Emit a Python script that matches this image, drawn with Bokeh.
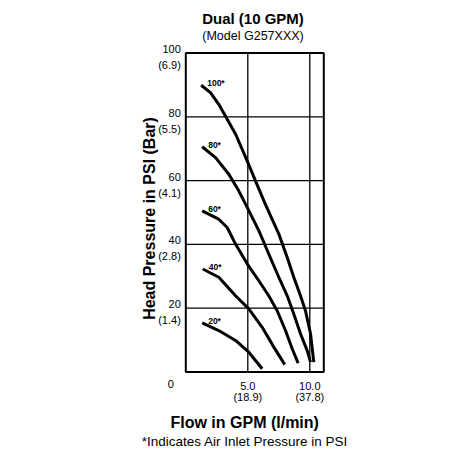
import math
from bokeh.plotting import figure
from bokeh.models import Label, Range1d
from bokeh.embed import file_html
from bokeh.resources import INLINE

# ---- data ----
air_pressures = ["100*", "80*", "60*", "40*", "20*"]

flow_100 = [1.24, 1.99, 2.66, 3.34, 4.01, 4.95, 5.62, 6.29, 6.83, 7.50, 8.18, 8.71, 9.25, 9.65, 10.06, 10.32]
head_100 = [89.9, 87.6, 83.9, 79.2, 74.6, 66.2, 59.9, 53.7, 49.0, 43.3, 35.9, 29.7, 23.9, 19.2, 12.0, 3.1]

flow_80 = [1.32, 2.40, 3.47, 4.27, 4.95, 5.89, 6.69, 7.50, 8.18, 8.71, 9.25, 9.79, 10.06]
head_80 = [70.6, 67.2, 62.0, 56.8, 51.6, 44.3, 37.0, 29.7, 23.9, 18.2, 12.0, 6.7, 3.1]

flow_60 = [1.32, 2.66, 3.34, 4.01, 4.95, 5.89, 6.69, 7.37, 8.04, 8.58, 9.06]
head_60 = [50.5, 47.9, 45.3, 40.1, 33.9, 28.6, 23.9, 19.2, 13.0, 7.3, 2.8]

flow_40 = [1.37, 2.66, 4.01, 5.08, 6.16, 7.10, 7.98]
head_40 = [32.3, 29.7, 23.9, 19.8, 14.0, 7.8, 2.3]

flow_20 = [1.32, 2.66, 4.01, 5.08, 6.16]
head_20 = [15.4, 13.0, 9.9, 6.2, 1.0]

x_min, x_max = 0.0, 11.13      # chart box extent (GPM)
y_min, y_max = 0.0, 100.0      # chart box extent (PSI)
y_ticks = [20, 40, 60, 80, 100]
y_tick_bar = ["(1.4)", "(2.8)", "(4.1)", "(5.5)", "(6.9)"]
x_ticks = [5.0, 10.0]
x_tick_labels = ["5.0", "10.0"]
x_tick_lpm = ["(18.9)", "(37.8)"]

FONT = "Liberation Sans"

# whole canvas is the frame; the chart box sits inside it
PX_X = 12.4   # px per GPM
PX_Y = 3.19   # px per PSI
X0_PX, Y0_PX = 185.3, 371.5
p = figure(width=465, height=465,
           x_range=Range1d(-X0_PX / PX_X, (465 - X0_PX) / PX_X),
           y_range=Range1d(-(465 - Y0_PX) / PX_Y, Y0_PX / PX_Y),
           x_axis_location=None, y_axis_location=None,
           toolbar_location=None, output_backend="svg",
           min_border=0, outline_line_color=None,
           background_fill_color="white", border_fill_color="white")
p.grid.visible = False
p.title.visible = False

# grid lines
p.segment(x0=x_ticks, y0=[y_min] * len(x_ticks), x1=x_ticks, y1=[y_max] * len(x_ticks),
          line_color="black", line_width=1.3)
p.segment(x0=[x_min] * 4, y0=y_ticks[:-1], x1=[x_max] * 4, y1=y_ticks[:-1],
          line_color="black", line_width=1.3)
# chart box
p.quad(left=[x_min], right=[x_max], bottom=[y_min], top=[y_max],
       fill_color=None, line_color="black", line_width=2)

curves = [(flow_100, head_100), (flow_80, head_80), (flow_60, head_60),
          (flow_40, head_40), (flow_20, head_20)]
for (fx, hy), name in zip(curves, air_pressures):
    p.line(fx, hy, line_color="black", line_width=3, line_join="round")
    p.add_layout(Label(x=fx[0], y=hy[0], x_offset=6, y_offset=2, text=name,
                       text_align="left", text_baseline="middle",
                       text_font=FONT, text_font_style="bold",
                       text_font_size="8.5px", text_color="black"))

def lab(**kw):
    base = dict(text_font=FONT, text_color="black", text_align="center",
                text_baseline="middle", text_font_size="11px")
    base.update(kw)
    p.add_layout(Label(**base))

for v, b in zip(y_ticks, y_tick_bar):
    lab(x=x_min, y=v, x_offset=-5, y_offset=4, text=str(v), text_align="right")
    lab(x=x_min, y=v, x_offset=-5, y_offset=-12, text=b, text_align="right")

for v, t, l in zip(x_ticks, x_tick_labels, x_tick_lpm):
    lab(x=v, y=y_min, y_offset=-13.5, text=t)
    lab(x=v, y=y_min, y_offset=-25, text=l)
lab(x=x_min, y=y_min, x_offset=-15, y_offset=-12, text="0")

# titles
lab(x=5.42, y=y_max, y_offset=35, text="Dual (10 GPM)", text_font_style="bold", text_font_size="15px")
lab(x=5.42, y=y_max, y_offset=17, text="(Model G257XXX)", text_font_size="12.5px")
lab(x=4.75, y=y_min, y_offset=-50, text="Flow in GPM (l/min)", text_font_style="bold", text_font_size="16px")
lab(x=4.77, y=y_min, y_offset=-69, text="*Indicates Air Inlet Pressure in PSI", text_font_size="13.5px")
lab(x=x_min, y=50, x_offset=-36, y_offset=-6, angle=math.pi / 2,
    text="Head Pressure in PSI (Bar)", text_font_style="bold", text_font_size="16px")

open("out.html", "w").write(file_html(p, INLINE))
